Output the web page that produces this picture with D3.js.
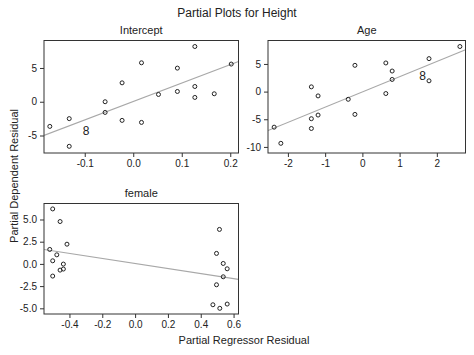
<!DOCTYPE html>
<html><head><meta charset="utf-8">
<script src="https://cdn.jsdelivr.net/npm/d3@7/dist/d3.min.js"></script>
<style>
body{margin:0;background:#fff;}
svg{display:block;font-family:"Liberation Sans",Arial,sans-serif;}
</style></head>
<body><svg id="c" width="474" height="355"></svg>
<script>
// ---- data ----
const interceptX = [-0.172,-0.132,-0.132,-0.058,-0.058,-0.023,-0.023,0.017,0.017,0.052,0.091,0.091,0.127,0.127,0.127,0.167,0.202];
const interceptY = [-3.65,-2.5,-6.6,0.0,-1.58,2.8,-2.76,5.77,-3.06,1.08,4.98,1.52,8.18,2.26,0.64,1.18,5.58];
const interceptOverlapX = [-0.097];
const interceptOverlapY = [-4.3];
const interceptFit = [27.3, 0.04]; // slope, intercept

const ageX = [-2.37,-2.19,-1.37,-1.37,-1.37,-1.19,-1.19,-0.38,-0.20,-0.20,0.63,0.63,0.80,0.80,1.79,1.79,2.62];
const ageY = [-6.43,-9.35,0.86,-4.9,-6.67,-0.78,-4.24,-1.39,4.75,-4.12,5.18,-0.35,3.72,2.2,5.96,1.95,8.15];
const ageOverlapX = [1.62];
const ageOverlapY = [2.8];
const ageFit = [2.75, -0.06];

const femaleX = [-0.502,-0.457,-0.415,-0.52,-0.477,-0.502,-0.437,-0.437,-0.457,-0.502,0.514,0.496,0.537,0.561,0.537,0.496,0.474,0.516,0.561];
const femaleY = [6.19,4.77,2.22,1.63,1.02,0.35,-0.02,-0.58,-0.7,-1.37,3.88,1.18,0.05,-0.55,-1.45,-2.35,-4.6,-5.0,-4.52];
const femaleOverlapX = [];
const femaleOverlapY = [];
const femaleFit = [-2.84, 0.05];

const interceptXTicks = [-0.1,0.0,0.1,0.2];
const interceptYTicks = [-5,0,5];
const ageXTicks = [-2,-1,0,1,2];
const ageYTicks = [-10,-5,0,5];
const femaleXTicks = [-0.4,-0.2,0.0,0.2,0.4,0.6];
const femaleYTicks = [-5.0,-2.5,0.0,2.5,5.0];

const titles = ["Intercept","Age","female"];
const mainTitle = "Partial Plots for Height";
const xLabel = "Partial Regressor Residual";
const yLabel = "Partial Dependent Residual";

// ---- drawing ----
const svg = d3.select("#c");
const ink = "#222";

const panels = [
  {title:titles[0], x:interceptX, y:interceptY, ox:interceptOverlapX, oy:interceptOverlapY, fit:interceptFit,
   xd:[-0.184,0.217], yd:[-7.59,9.07], xt:interceptXTicks, yt:interceptYTicks, xf:d=>d.toFixed(1), yf:d=>String(d),
   box:{l:44,t:40.5,r:238.5,b:153}},
  {title:titles[1], x:ageX, y:ageY, ox:ageOverlapX, oy:ageOverlapY, fit:ageFit,
   xd:[-2.535,2.77], yd:[-11.1,9.24], xt:ageXTicks, yt:ageYTicks, xf:d=>String(d), yf:d=>String(d),
   box:{l:268,t:40.5,r:465.5,b:153}},
  {title:titles[2], x:femaleX, y:femaleY, ox:femaleOverlapX, oy:femaleOverlapY, fit:femaleFit,
   xd:[-0.555,0.63], yd:[-5.64,6.8], xt:femaleXTicks, yt:femaleYTicks, xf:d=>d.toFixed(1), yf:d=>d.toFixed(1),
   box:{l:44,t:203.5,r:238.5,b:314}}
];

panels.forEach(p=>{
  const b=p.box;
  const xs=d3.scaleLinear().domain(p.xd).range([b.l,b.r]);
  const ys=d3.scaleLinear().domain(p.yd).range([b.b,b.t]);
  const g=svg.append("g");
  const clipId="clip"+p.title;
  g.append("clipPath").attr("id",clipId).append("rect")
    .attr("x",b.l).attr("y",b.t).attr("width",b.r-b.l).attr("height",b.b-b.t);

  // fit line
  g.append("line").attr("clip-path",`url(#${clipId})`)
    .attr("x1",xs(p.xd[0])).attr("y1",ys(p.fit[0]*p.xd[0]+p.fit[1]))
    .attr("x2",xs(p.xd[1])).attr("y2",ys(p.fit[0]*p.xd[1]+p.fit[1]))
    .attr("stroke","#a8a8a8").attr("stroke-width",1.1);

  // points
  g.selectAll("circle.pt").data(d3.range(p.x.length)).join("circle")
    .attr("cx",i=>xs(p.x[i])).attr("cy",i=>ys(p.y[i])).attr("r",2)
    .attr("fill","none").attr("stroke",ink).attr("stroke-width",1);
  g.selectAll("text.ov").data(d3.range(p.ox.length)).join("text")
    .attr("x",i=>xs(p.ox[i])).attr("y",i=>ys(p.oy[i])+4.2)
    .attr("text-anchor","middle").attr("font-size",12).attr("fill",ink).text("8");

  // frame
  g.append("rect").attr("x",b.l).attr("y",b.t).attr("width",b.r-b.l).attr("height",b.b-b.t)
    .attr("fill","none").attr("stroke","#333").attr("stroke-width",1);

  // axes
  const xa=g.append("g").attr("transform",`translate(0,${b.b})`)
    .call(d3.axisBottom(xs).tickValues(p.xt).tickFormat(p.xf).tickSize(4).tickPadding(3));
  const ya=g.append("g").attr("transform",`translate(${b.l},0)`)
    .call(d3.axisLeft(ys).tickValues(p.yt).tickFormat(p.yf).tickSize(4).tickPadding(3));
  [xa,ya].forEach(a=>{
    a.select(".domain").remove();
    a.selectAll("line").attr("stroke","#333");
    a.selectAll("text").attr("font-size",10).attr("fill",ink).attr("font-family","'Liberation Sans',Arial,sans-serif");
  });

  g.append("text").attr("x",(b.l+b.r)/2).attr("y",b.t-7).attr("text-anchor","middle")
    .attr("font-size",11).attr("fill",ink).text(p.title);
});

svg.append("text").attr("x",237).attr("y",17).attr("text-anchor","middle")
  .attr("font-size",12).attr("fill",ink).text(mainTitle);
svg.append("text").attr("x",244).attr("y",344).attr("text-anchor","middle")
  .attr("font-size",11).attr("fill",ink).text(xLabel);
svg.append("text").attr("transform","translate(18,176) rotate(-90)").attr("text-anchor","middle")
  .attr("font-size",11).attr("fill",ink).text(yLabel);
</script></body></html>
